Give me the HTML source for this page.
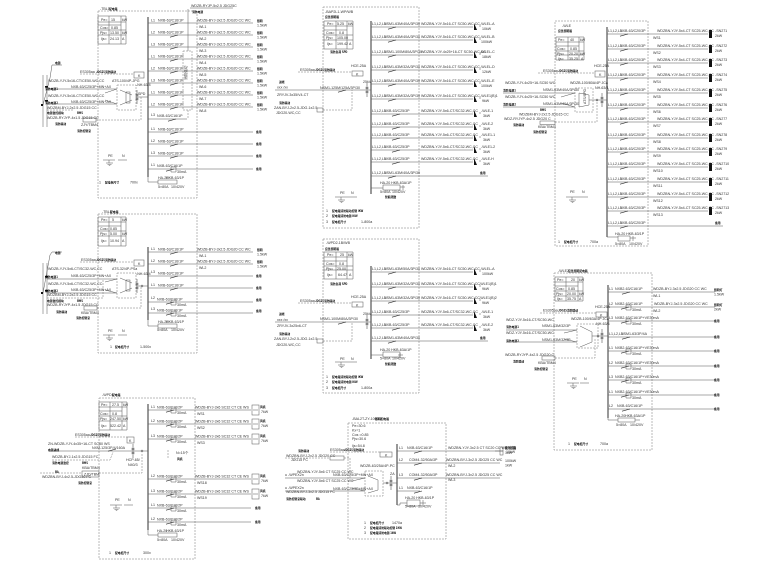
<!DOCTYPE html>
<html><head><meta charset="utf-8"><style>
html,body{margin:0;padding:0;background:#fff;width:760px;height:570px;overflow:hidden}
svg{display:block}
text{font:3.6px "Liberation Sans Narrow","Liberation Sans","Noto Sans CJK SC",sans-serif;fill:#333}
text.b{font:bold 2.8px "Noto Sans CJK SC","Liberation Sans",sans-serif;fill:#000}
path,rect,circle{fill:none;stroke:#555;stroke-width:.5}
.d{stroke:#777;stroke-dasharray:2 1;stroke-width:.5}
.u{stroke:#444;stroke-width:1.1}
.k{fill:#111;stroke:none}
</style></head><body>
<svg width="760" height="570" viewBox="0 0 760 570" xmlns="http://www.w3.org/2000/svg">
<defs>
<g id="s"><path d="M0 2.2L8 0" style="stroke:#222;stroke-width:.6"/></g>
<g id="r"><path d="M0 2.2L8 0" style="stroke:#222;stroke-width:.6"/><path d="M5 -2H10V3H5Z"/><text x="11" y="4">30mA</text></g>
<g id="g"><path d="M3 0V3M0 3H7M1.5 4.3H5.5M2.8 5.5H4.2M-3 0H9"/></g>
<g id="f"><path d="M0 -7V7M-1.5 -3L1.5 -1M1.5 -3L-1.5 -1M-1.5 1L1.5 3M1.5 1L-1.5 3" style="stroke:#333"/></g>
<g id="t"><path class="k" d="M0 3L0 -4L3 3Z"/><path d="M5 -1H7"/></g>
<rect id="m" x="0" y="-4" width="3" height="8" class="k"/>
</defs>

<!-- PANEL 1 -->
<rect class="d" x="98" y="11" width="99" height="187"/>
<text x="100" y="10">-TBL1</text><text class="b" x="109" y="10">配电箱</text>
<path d="M98 16H126V44H98ZM98 22H126M98 25H121M98 30H126M98 35H126M109 16V44M121 16V44"/>
<text x="101" y="21">Pe=</text><text x="111" y="21">15</text><text x="122" y="21">kW</text><text x="100" y="29">Cos=</text><text x="111" y="29">0.85</text><text x="100" y="34">Pjs=</text><text x="110" y="34">13.50</text><text x="122" y="34">kW</text><text x="101" y="40">Ijs=</text><text x="110" y="40">24.13</text><text x="122" y="40">A</text>
<text x="191" y="7">WDZB-RYJP-5x2.5 JDG25C</text><path d="M190 8H233"/><text class="b" x="192" y="13">消防电源</text><path d="M188 9V51"/>
<rect class="d" x="183" y="51" width="9" height="59"/><text x="0" y="0" transform="translate(187,80) rotate(-90)">消防强切</text><path d="M188 110V119" class="d"/>
<path class="u" d="M148 17V177"/>
<path d="M148 177V182H158"/><rect x="158" y="180" width="19" height="4"/><text x="158" y="179">HA-20</text><text x="166" y="179">HKB-63/1P</text><text x="158" y="188">5×80A</text><text x="171" y="188">10/420V</text>
<g transform="translate(0,23)"><path d="M148 0H253"/><use href="#s" x="170"/><text x="151" y="-1.5">L1</text><text x="158" y="-1.5">NXB-63/C16/1P</text><text x="197" y="-1.5">WDZB-BYJ-3x2.5 JDG20 CC WC</text><text x="199" y="5">WL1</text><text class="b" x="257" y="-1">照明</text><text x="257" y="3.5">1.5kW</text></g>
<g transform="translate(0,35)"><path d="M148 0H253"/><use href="#s" x="170"/><text x="151" y="-1.5">L2</text><text x="158" y="-1.5">NXB-63/C16/1P</text><text x="197" y="-1.5">WDZB-BYJ-3x2.5 JDG20 CC WC</text><text x="199" y="5">WL2</text><text class="b" x="257" y="-1">照明</text><text x="257" y="3.5">1.5kW</text></g>
<g transform="translate(0,47)"><path d="M148 0H253"/><use href="#s" x="170"/><text x="151" y="-1.5">L3</text><text x="158" y="-1.5">NXB-63/C16/1P</text><text x="197" y="-1.5">WDZB-BYJ-3x2.5 JDG20 CC WC</text><text x="199" y="5">WL3</text><text class="b" x="257" y="-1">照明</text><text x="257" y="3.5">1.5kW</text></g>
<g transform="translate(0,59)"><path d="M148 0H253"/><use href="#s" x="170"/><text x="151" y="-1.5">L1</text><text x="158" y="-1.5">NXB-63/C16/1P</text><text x="197" y="-1.5">WDZB-BYJ-3x2.5 JDG20 CC WC</text><text x="199" y="5">WL4</text><text class="b" x="257" y="-1">照明</text><text x="257" y="3.5">1.5kW</text></g>
<g transform="translate(0,71)"><path d="M148 0H253"/><use href="#s" x="170"/><text x="151" y="-1.5">L2</text><text x="158" y="-1.5">NXB-63/C16/1P</text><text x="197" y="-1.5">WDZB-BYJ-3x2.5 JDG20 CC WC</text><text x="199" y="5">WL5</text><text class="b" x="257" y="-1">照明</text><text x="257" y="3.5">1.5kW</text></g>
<g transform="translate(0,83)"><path d="M148 0H253"/><use href="#s" x="170"/><text x="151" y="-1.5">L3</text><text x="158" y="-1.5">NXB-63/C16/1P</text><text x="197" y="-1.5">WDZB-BYJ-3x2.5 JDG20 CC WC</text><text x="199" y="5">WL6</text><text class="b" x="257" y="-1">照明</text><text x="257" y="3.5">1.5kW</text></g>
<g transform="translate(0,95)"><path d="M148 0H253"/><use href="#s" x="170"/><text x="151" y="-1.5">L1</text><text x="158" y="-1.5">NXB-63/C16/1P</text><text x="197" y="-1.5">WDZB-BYJ-3x2.5 JDG20 CC WC</text><text x="199" y="5">WL7</text><text class="b" x="257" y="-1">照明</text><text x="257" y="3.5">1.5kW</text></g>
<g transform="translate(0,107)"><path d="M148 0H253"/><use href="#s" x="170"/><text x="151" y="-1.5">L2</text><text x="158" y="-1.5">NXB-63/C16/1P</text><text x="197" y="-1.5">WDZB-BYJ-3x2.5 JDG20 CC WC</text><text x="199" y="5">WL8</text><text class="b" x="257" y="-1">照明</text><text x="257" y="3.5">1.5kW</text></g>
<g transform="translate(0,119)"><path d="M148 0H187"/><use href="#s" x="168"/><text x="151" y="-3">L3</text><text x="157" y="-2">NXB-63/C16/1P</text></g>
<g transform="translate(0,132)"><path d="M148 0H253"/><use href="#s" x="170"/><text x="151" y="-2">L1</text><text x="158" y="-1.5">NXB-63/C16/1P</text><text class="b" x="256" y="1">备用</text></g>
<g transform="translate(0,144)"><path d="M148 0H253"/><use href="#s" x="170"/><text x="151" y="-2">L2</text><text x="158" y="-1.5">NXB-63/C16/1P</text><text class="b" x="256" y="1">备用</text></g>
<g transform="translate(0,156)"><path d="M148 0H253"/><use href="#s" x="170"/><text x="151" y="-2">L3</text><text x="158" y="-1.5">NXB-63/C16/1P</text><text class="b" x="256" y="1">备用</text></g>
<g transform="translate(0,169)"><path d="M148 0H253"/><use href="#r" x="166"/><text x="151" y="-3">L1</text><text x="157" y="-2">NXB-63/C16/1P</text><text class="b" x="256" y="1">备用</text></g>
<path d="M43 75V127M47 75V127M43 105L50 78L52 65H62"/><text class="b" x="55" y="64">电源</text>
<path class="k" d="M45 86h3v1.5h-3zM45 100h3v1.5h-3zM41 104h2v2h-2z"/>
<text x="48" y="82">WDZB-YJY-5x16-CT/CE50-WC,CC</text><path d="M47 89H117M47 104H117M117 89L105 93M117 104L105 100"/>
<text class="b" x="45" y="90">消防电源1</text><text class="b" x="45" y="104">消防电源2</text><text x="71" y="88">NXB-63/C25/3P+MN+AX</text><text x="48" y="97">WDZB-YJY-5x16-CT/CE50-WC,CC</text><text x="71" y="103">NXB-63/C25/3P+MN+AX</text>
<text x="47" y="109">WDZBM-BYJ-2x2.5 JDG15 CC</text><text class="b" x="47" y="114">电源监控模块</text><text class="b" x="77" y="114">BMS</text><text x="47" y="119">WDZB-RYJYP-4x1.5 JDG15 CC</text><rect x="83" y="118" width="13" height="4"/><text x="81" y="126">ZJY/TBM4</text><text class="b" x="55" y="125">消防联动</text><text class="b" x="77" y="132">消防控制室</text>
<path class="d" d="M80 74H134M96 120H141V97M47 110H73"/><rect x="134" y="72" width="10" height="6"/><text x="138" y="77">K</text><text x="80" y="73">ES305aa</text><text class="b" x="96" y="73">JDG25消防联动</text>
<rect class="d" x="117" y="85" width="19" height="25"/><text x="112" y="82">ATS-100/4P-JPG</text><text x="136" y="86">-NH-63/4</text><path d="M120 90L132 95M120 105L132 100M136 97H148"/><rect x="126" y="92" width="4" height="11"/><use href="#f" x="137" y="97"/><text x="138" y="95">SPD</text>
<use href="#g" x="106" y="160"/><text x="108" y="157">PE</text><path d="M118 160H127"/><text x="122" y="157">N</text>
<text x="99" y="183.5">1</text><text class="b" x="105" y="183.5">配电柜尺寸</text><text x="130" y="183.5">700x</text>

<!-- PANEL 2 -->
<rect class="d" x="98" y="214" width="99" height="139"/>
<text x="102" y="213">-TBL2</text><text class="b" x="110" y="213">配电箱</text>
<path d="M98 217H126V246H98ZM98 222H126M98 226H121M98 231H126M98 236H126M109 217V246M121 217V246"/>
<text x="101" y="221">Pe=</text><text x="112" y="221">5</text><text x="122" y="221">kW</text><text x="100" y="230">Cos=</text><text x="110" y="230">0.85</text><text x="100" y="235">Pjs=</text><text x="110" y="235">5.00</text><text x="122" y="235">kW</text><text x="101" y="242">Ijs=</text><text x="110" y="242">10.94</text><text x="122" y="242">A</text>
<path class="u" d="M148 247V320"/>
<path d="M148 320V326H158"/><rect x="158" y="324" width="19" height="4"/><text x="158" y="323">HA-20</text><text x="166" y="323">HKB-63/1P</text><text x="157" y="331">5×80A</text><text x="171" y="331">10/420V</text>
<g transform="translate(0,252)"><path d="M148 0H253"/><use href="#s" x="170"/><text x="151" y="-2">L1</text><text x="158" y="-1.5">NXB-63/C16/1P</text><text x="197" y="-1.5">WDZB-BYJ-3x2.5 JDG20 CC WC</text><text x="199" y="5">WL1</text><text class="b" x="257" y="-1">照明</text><text x="257" y="3.5">1.5kW</text></g>
<g transform="translate(0,264)"><path d="M148 0H253"/><use href="#s" x="170"/><text x="151" y="-2">L2</text><text x="158" y="-1.5">NXB-63/C16/1P</text><text x="197" y="-1.5">WDZB-BYJ-3x2.5 JDG20 CC WC</text><text x="199" y="5">WL2</text><text class="b" x="257" y="-1">照明</text><text x="257" y="3.5">1.5kW</text></g>
<g transform="translate(0,276)"><path d="M148 0H253"/><use href="#s" x="170"/><text x="151" y="-3">L3</text><text x="158" y="-1.5">NXB-63/C16/1P</text><text class="b" x="256" y="1">备用</text></g>
<g transform="translate(0,288)"><path d="M148 0H253"/><use href="#s" x="170"/><text x="151" y="-2">L1</text><text x="158" y="-1.5">NXB-63/C16/1P</text><text class="b" x="256" y="1">备用</text></g>
<g transform="translate(0,302)"><path d="M148 0H253"/><use href="#r" x="166"/><text x="151" y="-3">L2</text><text x="157" y="-1.5">NXB-63/C16/1P</text><text class="b" x="256" y="-1">备用</text></g>
<g transform="translate(0,313)"><path d="M148 0H253"/><use href="#r" x="166"/><text x="151" y="-3">L3</text><text x="157" y="-1.5">NXB-63/C16/1P</text><text class="b" x="256" y="-1">备用</text></g>
<path d="M43 263V314M47 263V314M43 293L50 255L52 252H62"/><text class="b" x="55" y="254">电源</text>
<path class="k" d="M45 276h3v1.5h-3zM45 290h3v1.5h-3zM41 292h2v2h-2z"/>
<text x="48" y="270">WDZB-YJY-5x6-CT/SC32-WC,CC</text><path d="M47 279H117M47 293H117M117 279L105 282M117 293L105 290"/>
<text class="b" x="45" y="278">消防电源1</text><text class="b" x="45" y="292">消防电源2</text><text x="71" y="277">NXB-63/C25/3P+MN+AX</text><text x="48" y="285">WDZB-YJY-5x6-CT/SC32-WC,CC</text><text x="71" y="291">NXB-63/C25/3P+MN+AX</text>
<text x="47" y="296">WDZBM-BYJ-2x2.5 JDG15 CC</text><text class="b" x="47" y="302">电源监控模块</text><text class="b" x="77" y="302">BMS</text><text x="47" y="306">WDZB-RYJYP-4x1.5 JDG15 CC</text><rect x="84" y="306" width="13" height="4"/><text x="81" y="314">KBA/TBM4</text><text class="b" x="56" y="313">消防联动</text><text class="b" x="76" y="319">消防控制室</text>
<path class="d" d="M80 262H134M97 308H141V287M47 298H103V280"/><rect x="134" y="260" width="10" height="6"/><text x="138" y="265">K</text><text x="81" y="261">ES305aa</text><text class="b" x="96" y="261">JDG25消防联动</text>
<rect class="d" x="117" y="273" width="19" height="25"/><text x="112" y="270">ATS-32/4P-PSa</text><text x="136" y="275">-NH-63/4</text><path d="M120 278L132 283M120 293L132 288M136 286H148"/><rect x="126" y="280" width="4" height="11"/><use href="#f" x="137" y="286"/><circle cx="142" cy="286" r="1"/>
<use href="#g" x="106" y="335"/><text x="108" y="332">PE</text><path d="M118 335H127"/><text x="122" y="332">N</text>
<text x="110" y="348">1</text><text class="b" x="115" y="348">配电柜尺寸</text><text x="140" y="348">1-500x</text>

<!-- PANEL 3 -->
<rect class="d" x="99" y="398" width="96" height="161"/>
<text x="102" y="396">-WPD1</text><text class="b" x="112" y="396">配电箱</text>
<path d="M99 402H127V430H99ZM99 407H127M99 411H122M99 416H127M99 421H127M110 402V430M122 402V430"/>
<text x="101" y="406">Pe=</text><text x="112" y="406">27.5</text><text x="123" y="406">kW</text><text x="100" y="415">Cos=</text><text x="112" y="415">0.8</text><text x="100" y="420">Pjs=</text><text x="110" y="420">247.50</text><text x="123" y="420">kW</text><text x="101" y="427">Ijs=</text><text x="110" y="427">522.42</text><text x="123" y="427">A</text>
<path class="u" d="M148 404V530"/>
<path d="M148 530V535H158"/><rect x="158" y="533" width="19" height="4"/><text x="157" y="532">HA-20</text><text x="166" y="532">HKB-63/1P</text><text x="157" y="541">5×80A</text><text x="171" y="541">10/420V</text>
<g transform="translate(0,410)"><path d="M148 0H251"/><rect x="252" y="-5" width="7" height="10"/><path d="M253 0H258"/><use href="#r" x="166"/><text x="151" y="-2">L1</text><text x="157" y="-1.5">NXB-63/C16/2P</text><text x="195" y="-1.5">WDZB-BYJ-3x6 SC32 CT CE WS</text><text x="197" y="5">WS1</text><text class="b" x="260" y="-2">风机</text><text x="261" y="3">7kW</text></g>
<g transform="translate(0,424)"><path d="M148 0H251"/><rect x="252" y="-5" width="7" height="10"/><path d="M253 0H258"/><use href="#r" x="166"/><text x="151" y="-2">L2</text><text x="157" y="-1.5">NXB-63/C16/2P</text><text x="195" y="-1.5">WDZB-BYJ-3x6 SC32 CT CE WS</text><text x="197" y="5">WS2</text><text class="b" x="260" y="-2">风机</text><text x="261" y="3">7kW</text></g>
<g transform="translate(0,439)"><path d="M148 0H251"/><rect x="252" y="-5" width="7" height="10"/><path d="M253 0H258"/><use href="#r" x="166"/><text x="151" y="-2">L3</text><text x="157" y="-1.5">NXB-63/C16/2P</text><text x="195" y="-1.5">WDZB-BYJ-3x6 SC32 CT CE WS</text><text x="197" y="5">WS3</text><text class="b" x="260" y="-2">风机</text><text x="261" y="3">7kW</text></g>
<g transform="translate(0,479)"><path d="M148 0H251"/><rect x="252" y="-5" width="7" height="10"/><path d="M253 0H258"/><use href="#r" x="166"/><text x="151" y="-2">L2</text><text x="157" y="-1.5">NXB-63/C16/2P</text><text x="195" y="-1.5">WDZB-BYJ-3x6 SC32 CT CE WS</text><text x="197" y="5">WS18</text><text class="b" x="260" y="-2">风机</text><text x="261" y="3">7kW</text></g>
<g transform="translate(0,494)"><path d="M148 0H251"/><rect x="252" y="-5" width="7" height="10"/><path d="M253 0H258"/><use href="#r" x="166"/><text x="151" y="-2">L3</text><text x="157" y="-1.5">NXB-63/C16/2P</text><text x="195" y="-1.5">WDZB-BYJ-3x6 SC32 CT CE WS</text><text x="197" y="5">WS19</text><text class="b" x="260" y="-2">风机</text><text x="261" y="3">7kW</text></g>
<g transform="translate(0,508)"><path d="M148 0H251"/><use href="#r" x="166"/><text x="151" y="-2">L1</text><text x="157" y="-1.5">NXB-63/C16/2P</text><text class="b" x="255" y="1">备用</text></g>
<g transform="translate(0,522)"><path d="M148 0H251"/><use href="#r" x="166"/><text x="151" y="-2">L2</text><text x="157" y="-1.5">NXB-63/C16/2P</text><text class="b" x="255" y="1">备用</text></g>
<path class="d" d="M168 450V458"/><text x="176" y="454">N=15个</text><text class="b" x="177" y="460">风机</text>
<path d="M48 451H148"/><circle cx="142" cy="451" r="1"/><use href="#s" x="108" y="449"/>
<text x="48" y="445">ZN-WDZB-YJY-4x35+16-CT SC80 WS</text><text class="b" x="48" y="451">电源进线</text><text x="92" y="449">NXM-125/3P/4/160A</text>
<path class="d" d="M75 437H127M52 460H110L113 452M40 473H82M99 473H142V453"/>
<rect x="127" y="437" width="7" height="6"/><text x="129" y="442">K</text><text x="75" y="436">ES305aa</text><text class="b" x="90" y="436">JDG25消防联动</text><use href="#f" x="133" y="451"/><text x="126" y="461">HCP-65/</text><text x="128" y="466">N40/3</text>
<text x="52" y="458">WDZB-BYJ-1x2.5 JDG15 FC</text><text class="b" x="52" y="464">消防电源监控</text><text class="b" x="82" y="464">BMS</text><rect x="82" y="471" width="17" height="6"/><text x="84" y="475.5">ZJD/TBM</text><text x="82" y="469">KBA/TBM4</text><text x="42" y="478">WDZBN-BYJ-4x2.5-JDG20 FC</text><text class="b" x="78" y="484">消防控制室</text><text class="b" x="55" y="473">BA</text>
<use href="#g" x="113" y="505"/><text x="115" y="501">PE</text><path d="M124 505H133"/><text x="128" y="501">N</text>
<text x="109" y="554">1</text><text class="b" x="115" y="554">配电柜尺寸</text><text x="143" y="554">300x</text>

<!-- PANEL 4 -->
<rect class="d" x="323" y="7" width="96" height="221"/>
<text x="325" y="13">-BAP2L1-WP/WB</text><text class="b" x="325" y="18">应急照明箱</text>
<path d="M324 21H353V49H324ZM324 26H353M324 30H347M324 35H353M324 40H353M336 21V49M347 21V49"/>
<text x="327" y="25">Pe=</text><text x="337" y="25">5.25</text><text x="348" y="25">kW</text><text x="326" y="34">Cos=</text><text x="339" y="34">0.8</text><text x="326" y="39">Pjs=</text><text x="337" y="39">105.00</text><text x="327" y="45">Ijs=</text><text x="337" y="45">199.42</text><text x="349" y="45">A</text><text class="b" x="330" y="53">消防负荷 SPD</text>
<path class="u" d="M371 21V194"/>
<path d="M371 188H383"/><rect x="383" y="185" width="17" height="5"/><text x="380" y="184">HA-20 HKB-63A/1P</text><text x="380" y="193">5×80A</text><text x="392" y="193">10/420V</text><path d="M400 187H405M403 185V190"/><text class="b" x="385" y="198">智能疏散</text>
<g transform="translate(0,27)"><path d="M371 0H473"/><use href="#t" x="474"/><use href="#s" x="388"/><text x="372" y="-2">L1,L2,L3</text><text x="384" y="-2">NSM1-63M/40A/3P/30</text><text x="421" y="-2">WDZBN-YJY-5x16-CT SC50-WC,CC</text><text x="480" y="-2">-WLEL-A</text><text x="482" y="3">10kW</text></g>
<g transform="translate(0,40)"><path d="M371 0H473"/><use href="#t" x="474"/><use href="#s" x="388"/><text x="372" y="-2">L1,L2,L3</text><text x="384" y="-2">NSM1-63M/40A/3P/30</text><text x="421" y="-2">WDZBN-YJY-5x16-CT SC50-WC,CC</text><text x="480" y="-2">-WLEL-B</text><text x="481" y="3">100kW</text></g>
<g transform="translate(0,55)"><path d="M371 0H473"/><use href="#t" x="474"/><use href="#s" x="388"/><text x="372" y="-2">L1,L2,L3</text><text x="384" y="-2">NSM1-100M/80A/3P/30</text><text x="421" y="-2">WDZBN-YJY-4x25+16-CT SC50-WC,CC</text><text x="480" y="-2">-WLEL-C</text><text x="482" y="3">18kW</text></g>
<g transform="translate(0,70)"><path d="M371 0H473"/><use href="#t" x="474"/><use href="#s" x="388"/><text x="372" y="-2">L1,L2,L3</text><text x="384" y="-2">NSM1-63M/32A/3P/30</text><text x="421" y="-2">WDZBN-YJY-5x16-CT SC50-WC,CC</text><text x="480" y="-2">-WLEL-D</text><text x="482" y="3">12kW</text></g>
<g transform="translate(0,84)"><path d="M371 0H473"/><use href="#t" x="474"/><use href="#s" x="388"/><text x="372" y="-2">L1,L2,L3</text><text x="384" y="-2">NSM1-63M/40A/3P/30</text><text x="421" y="-2">WDZBN-YJY-5x16-CT SC50-WC,CC</text><text x="480" y="-2">-WLEL-E</text><text x="481" y="3">100kW</text></g>
<g transform="translate(0,99)"><path d="M371 0H473"/><use href="#t" x="474"/><use href="#s" x="388"/><text x="372" y="-2">L1,L2,L3</text><text x="384" y="-2">NSM1-63M/32A/3P/30</text><text x="421" y="-2">WDZBN-YJY-5x16-CT SC50-WC,CC</text><text x="480" y="-2">-WLE1(B)1</text><text x="482" y="3">9kW</text></g>
<g transform="translate(0,114)"><path d="M371 0H473"/><use href="#t" x="474"/><use href="#s" x="392"/><text x="372" y="-2">L1,L2,L3</text><text x="384" y="-2">NXB-63/C25/3P</text><text x="421" y="-2">WDZBN-YJY-5x6-CT/SC32-WC,CC</text><text x="481" y="-2">-WLE-1</text><text x="483" y="3">3kW</text></g>
<g transform="translate(0,127)"><path d="M371 0H473"/><use href="#t" x="474"/><use href="#s" x="392"/><text x="372" y="-2">L1,L2,L3</text><text x="384" y="-2">NXB-63/C25/3P</text><text x="421" y="-2">WDZBN-YJY-5x6-CT/SC32-WC,CC</text><text x="481" y="-2">-WLE-2</text><text x="483" y="3">3kW</text></g>
<g transform="translate(0,138)"><path d="M371 0H473"/><use href="#t" x="474"/><use href="#s" x="392"/><text x="372" y="-2">L1,L2,L3</text><text x="384" y="-2">NXB-63/C25/3P</text><text x="421" y="-2">WDZBN-YJY-5x6-CT/SC32-WC,CC</text><text x="481" y="-2">-WLE1-1</text><text x="483" y="3">3kW</text></g>
<g transform="translate(0,150)"><path d="M371 0H473"/><use href="#t" x="474"/><use href="#s" x="392"/><text x="372" y="-2">L1,L2,L3</text><text x="384" y="-2">NXB-63/C25/3P</text><text x="421" y="-2">WDZBN-YJY-5x6-CT/SC32-WC,CC</text><text x="481" y="-2">-WLE1-2</text><text x="483" y="3">3kW</text></g>
<g transform="translate(0,162)"><path d="M371 0H473"/><use href="#t" x="474"/><use href="#s" x="392"/><text x="372" y="-2">L1,L2,L3</text><text x="384" y="-2">NXB-63/C25/3P</text><text x="421" y="-2">WDZBN-YJY-5x6-CT/SC32-WC,CC</text><text x="481" y="-2">-WLE-H</text><text x="483" y="3">3kW</text></g>
<g transform="translate(0,176)"><path d="M371 0H488"/><use href="#s" x="388"/><text x="372" y="-2">L1,L2,L3</text><text x="384" y="-2">NSM1-63M/40A/3P/30</text><text class="b" x="480" y="-2">备用</text></g>
<path d="M275 90H371"/><use href="#s" x="338" y="90"/><text class="b" x="279" y="83">进线</text><text x="277" y="88.5">xxx /xx</text><text x="277" y="96">ZRYJV-3x35/V4-CT</text><text x="320" y="89">NSM1-125M/125A/3P/30</text>
<path class="d" d="M298 72H352M323 110H352V90"/><rect x="352" y="71" width="11" height="5"/><text x="356" y="75.5">K</text><text x="300" y="71">ES305aa</text><text class="b" x="315" y="71">JDG25消防联动</text><text x="351" y="67">HCE-25A</text>
<use href="#f" x="367" y="90"/><text x="363" y="83">25kV</text>
<text class="b" x="279" y="104">消防联动</text><text x="274" y="109">ZAN-BYJ-2x2.5-JDG-1x2.5</text><text x="276" y="114">JDG20-WC,CC</text><rect x="317" y="108" width="6" height="4"/>
<use href="#g" x="338" y="197"/><text x="340" y="194">PE</text><path d="M347 197H357"/><text x="351" y="194">N</text>
<text x="326" y="212">1</text><text class="b" x="332" y="212">配电箱消防联动控制 IKW</text><text x="326" y="217">2</text><text class="b" x="332" y="217">配电箱消防电源 IKW</text><text x="326" y="223">3</text><text class="b" x="332" y="223">配电柜尺寸</text><text x="361" y="223">1-800a</text>

<!-- PANEL 5 -->
<rect class="d" x="323" y="239" width="96" height="154"/>
<text x="326" y="244">-WPD2-1B/WB</text><text class="b" x="325" y="250">应急照明箱</text>
<path d="M324 252H353V279H324ZM324 257H353M324 261H347M324 266H353M324 270H353M336 252V279M347 252V279"/>
<text x="327" y="256">Pe=</text><text x="340" y="256">25</text><text x="348" y="256">kW</text><text x="326" y="265">Cos=</text><text x="339" y="265">0.8</text><text x="326" y="270">Pjs=</text><text x="337" y="270">25.00</text><text x="327" y="276">Ijs=</text><text x="338" y="276">64.47</text><text x="349" y="276">A</text><text class="b" x="330" y="285">消防负荷 SPD</text>
<path class="u" d="M371 266V359"/>
<path d="M371 355H383"/><rect x="383" y="352" width="17" height="5"/><text x="380" y="351">HA-20 HKB-63A/1P</text><text x="380" y="359.5">5×80A</text><text x="392" y="359.5">10/420V</text><text class="b" x="385" y="365">智能疏散</text><path d="M400 353V358M398 355H403"/>
<g transform="translate(0,272)"><path d="M371 0H473"/><use href="#t" x="474"/><use href="#s" x="388"/><text x="372" y="-2">L1,L2,L3</text><text x="384" y="-2">NSM1-63M/50A/3P/30</text><text x="421" y="-2">WDZBN-YJY-5x16-CT SC50-WC,CC</text><text x="480" y="-2">-WLEL-A</text><text x="482" y="3">100kW</text></g>
<g transform="translate(0,287)"><path d="M371 0H473"/><use href="#t" x="474"/><use href="#s" x="388"/><text x="372" y="-2">L1,L2,L3</text><text x="384" y="-2">NSM1-63M/32A/3P/30</text><text x="421" y="-2">WDZBN-YJY-5x16-CT SC50-WC,CC</text><text x="479" y="-2">-WLE1(B)1</text><text x="482" y="3">9kW</text></g>
<g transform="translate(0,301)"><path d="M371 0H473"/><use href="#t" x="474"/><use href="#s" x="388"/><text x="372" y="-2">L1,L2,L3</text><text x="384" y="-2">NSM1-63M/32A/3P/30</text><text x="421" y="-2">WDZBN-YJY-5x16-CT SC50-WC,CC</text><text x="479" y="-2">-WLE1(B)2</text><text x="482" y="3">9kW</text></g>
<g transform="translate(0,315)"><path d="M371 0H473"/><use href="#t" x="474"/><use href="#s" x="392"/><text x="372" y="-2">L1,L2,L3</text><text x="384" y="-2">NXB-63/C25/3P</text><text x="421" y="-2">WDZBN-YJY-5x6-CT/SC32-WC,CC</text><text x="481" y="-2">-WLE-1</text><text x="483" y="3">3kW</text></g>
<g transform="translate(0,328)"><path d="M371 0H473"/><use href="#t" x="474"/><use href="#s" x="392"/><text x="372" y="-2">L1,L2,L3</text><text x="384" y="-2">NXB-63/C25/3P</text><text x="421" y="-2">WDZBN-YJY-5x6-CT/SC32-WC,CC</text><text x="481" y="-2">-WLE-2</text><text x="483" y="3">3kW</text></g>
<g transform="translate(0,341)"><path d="M371 0H488"/><use href="#s" x="388"/><text x="372" y="-2">L1,L2,L3</text><text x="384" y="-2">NSM1-63M/40A/3P/30</text><text class="b" x="480" y="-2">备用</text></g>
<path d="M275 322H371"/><use href="#s" x="338" y="322"/><text class="b" x="279" y="315">进线</text><text x="277" y="321">xxx /xx</text><text x="277" y="327">ZRYJV-3x25x6-CT</text><text x="320" y="320">NSM1-100M/80A/3P/30</text>
<path class="d" d="M298 303H352M323 341H352V322"/><rect x="352" y="302" width="11" height="5"/><text x="356" y="306.5">K</text><text x="300" y="302">ES305aa</text><text class="b" x="315" y="302">JDG25消防联动</text><text x="351" y="298">HCE-25A</text>
<use href="#f" x="367" y="322"/><text x="363" y="315">25kV</text>
<text class="b" x="279" y="335">消防联动</text><text x="274" y="340">ZAN-BYJ-2x2.5-JDG-1x2.5</text><text x="276" y="346">JDG20-WC,CC</text><rect x="317" y="339" width="6" height="4"/>
<use href="#g" x="338" y="362"/><text x="340" y="360">PE</text><path d="M347 362H357"/><text x="351" y="360">N</text>
<text x="326" y="378">1</text><text class="b" x="332" y="378">配电箱消防联动控制 IKW</text><text x="326" y="383">2</text><text class="b" x="332" y="383">配电箱消防电源 IKW</text><text x="326" y="389">3</text><text class="b" x="332" y="389">配电柜尺寸</text><text x="361" y="389">1-800a</text>

<!-- PANEL 6 -->
<rect class="d" x="555" y="21" width="93" height="225"/>
<text x="562" y="27">-WLE</text><text class="b" x="558" y="32">应急照明箱</text>
<path d="M556 37H584V60H556ZM556 42H584M556 46H579M556 51H584M556 55H584M568 37V60M579 37V60"/>
<text x="558" y="41">Pe=</text><text x="570" y="41">40</text><text x="580" y="41">kW</text><text x="557" y="50">Cos=</text><text x="570" y="50">0.85</text><text x="557" y="55">Pjs=</text><text x="569" y="55">20.20</text><text x="580" y="55">kW</text><text x="558" y="60">Ijs=</text><text x="569" y="60">35.25</text><text x="581" y="60">A</text>
<path class="u" d="M607 27V237"/>
<path d="M607 237H618"/><rect x="618" y="236" width="12" height="5"/><text x="615" y="235">HA-20 HKB-63/1P</text><text x="615" y="245">5×80A</text><text x="629" y="245">10/420V</text><path d="M630 238H636M633 236V241"/>
<g transform="translate(0,34)"><path d="M607 0H708"/><use href="#m" x="709"/><use href="#s" x="620"/><text x="608" y="-2">L1,L2,L3</text><text x="620" y="-2">NXB-63/C20/3P</text><text x="657" y="-2">WDZBN-YJY-5x4-CT SC25-WC,CC</text><text x="653" y="5">WS1</text><text x="715" y="-2">-SN271</text><text x="715" y="3">2kW</text></g>
<g transform="translate(0,49)"><path d="M607 0H708"/><use href="#m" x="709"/><use href="#s" x="620"/><text x="608" y="-2">L1,L2,L3</text><text x="620" y="-2">NXB-63/C20/3P</text><text x="657" y="-2">WDZBN-YJY-5x4-CT SC25-WC,CC</text><text x="653" y="5">WS2</text><text x="715" y="-2">-SN272</text><text x="715" y="3">2kW</text></g>
<g transform="translate(0,63)"><path d="M607 0H708"/><use href="#m" x="709"/><use href="#s" x="620"/><text x="608" y="-2">L1,L2,L3</text><text x="620" y="-2">NXB-63/C20/3P</text><text x="657" y="-2">WDZBN-YJY-5x4-CT SC25-WC,CC</text><text x="653" y="5">WS3</text><text x="715" y="-2">-SN273</text><text x="715" y="3">2kW</text></g>
<g transform="translate(0,78)"><path d="M607 0H708"/><use href="#m" x="709"/><use href="#s" x="620"/><text x="608" y="-2">L1,L2,L3</text><text x="620" y="-2">NXB-63/C20/3P</text><text x="657" y="-2">WDZBN-YJY-5x4-CT SC25-WC,CC</text><text x="653" y="5">WS4</text><text x="715" y="-2">-SN274</text><text x="715" y="3">2kW</text></g>
<g transform="translate(0,93)"><path d="M607 0H708"/><use href="#m" x="709"/><use href="#s" x="620"/><text x="608" y="-2">L1,L2,L3</text><text x="620" y="-2">NXB-63/C20/3P</text><text x="657" y="-2">WDZBN-YJY-5x4-CT SC25-WC,CC</text><text x="653" y="5">WS5</text><text x="715" y="-2">-SN275</text><text x="715" y="3">2kW</text></g>
<g transform="translate(0,108)"><path d="M607 0H708"/><use href="#m" x="709"/><use href="#s" x="620"/><text x="608" y="-2">L1,L2,L3</text><text x="620" y="-2">NXB-63/C20/3P</text><text x="657" y="-2">WDZBN-YJY-5x4-CT SC25-WC,CC</text><text x="653" y="5">WS6</text><text x="715" y="-2">-SN276</text><text x="715" y="3">2kW</text></g>
<g transform="translate(0,122)"><path d="M607 0H708"/><use href="#m" x="709"/><use href="#s" x="620"/><text x="608" y="-2">L1,L2,L3</text><text x="620" y="-2">NXB-63/C20/3P</text><text x="657" y="-2">WDZBN-YJY-5x4-CT SC25-WC,CC</text><text x="653" y="5">WS7</text><text x="715" y="-2">-SN277</text><text x="715" y="3">2kW</text></g>
<g transform="translate(0,138)"><path d="M607 0H708"/><use href="#m" x="709"/><use href="#s" x="620"/><text x="608" y="-2">L1,L2,L3</text><text x="620" y="-2">NXB-63/C20/3P</text><text x="657" y="-2">WDZBN-YJY-5x4-CT SC25-WC,CC</text><text x="653" y="5">WS8</text><text x="715" y="-2">-SN278</text><text x="715" y="3">2kW</text></g>
<g transform="translate(0,152)"><path d="M607 0H708"/><use href="#m" x="709"/><use href="#s" x="620"/><text x="608" y="-2">L1,L2,L3</text><text x="620" y="-2">NXB-63/C20/3P</text><text x="657" y="-2">WDZBN-YJY-5x4-CT SC25-WC,CC</text><text x="653" y="5">WS9</text><text x="715" y="-2">-SN279</text><text x="715" y="3">2kW</text></g>
<g transform="translate(0,167)"><path d="M607 0H708"/><use href="#m" x="709"/><use href="#s" x="620"/><text x="608" y="-2">L1,L2,L3</text><text x="620" y="-2">NXB-63/C20/3P</text><text x="657" y="-2">WDZBN-YJY-5x4-CT SC25-WC,CC</text><text x="653" y="5">WS10</text><text x="715" y="-2">-SN2710</text><text x="715" y="3">2kW</text></g>
<g transform="translate(0,182)"><path d="M607 0H708"/><use href="#m" x="709"/><use href="#s" x="620"/><text x="608" y="-2">L1,L2,L3</text><text x="620" y="-2">NXB-63/C20/3P</text><text x="657" y="-2">WDZBN-YJY-5x4-CT SC25-WC,CC</text><text x="653" y="5">WS11</text><text x="715" y="-2">-SN2711</text><text x="715" y="3">2kW</text></g>
<g transform="translate(0,197)"><path d="M607 0H708"/><use href="#m" x="709"/><use href="#s" x="620"/><text x="608" y="-2">L1,L2,L3</text><text x="620" y="-2">NXB-63/C20/3P</text><text x="657" y="-2">WDZBN-YJY-5x4-CT SC25-WC,CC</text><text x="653" y="5">WS12</text><text x="715" y="-2">-SN2712</text><text x="715" y="3">2kW</text></g>
<g transform="translate(0,211)"><path d="M607 0H708"/><use href="#m" x="709"/><use href="#s" x="620"/><text x="608" y="-2">L1,L2,L3</text><text x="620" y="-2">NXB-63/C20/3P</text><text x="657" y="-2">WDZBN-YJY-5x4-CT SC25-WC,CC</text><text x="653" y="5">WS13</text><text x="715" y="-2">-SN2713</text><text x="715" y="3">2kW</text></g>
<g transform="translate(0,226)"><path d="M607 0H723"/><use href="#s" x="620"/><text x="608" y="-2">L1,L2,L3</text><text x="620" y="-2">NXB-63/C20/3P</text><text class="b" x="715" y="-2">备用</text></g>
<text x="505" y="84">WDZB-YJY-4x25+16-SC50 WC</text><text x="505" y="98">WDZB-YJY-4x25+16-SC50 WC</text><text class="b" x="503" y="91.5">消防电源1</text><text class="b" x="503" y="105.5">消防电源2</text>
<path d="M503 93H575M503 107H575M575 93L561 97M575 107L561 103"/>
<text x="543" y="91">NSM1-63M/40A/3P/30</text><text x="543" y="105">NSM1-63M/40A/3P/30</text>
<path class="d" d="M538 73H595M555 122H597V100"/><rect x="595" y="71" width="10" height="6"/><text x="599" y="76">K</text><text x="543" y="72">ES305aa</text><text class="b" x="558" y="72">JDG25消防联动</text><text x="594" y="67">HCE-25A</text>
<rect class="d" x="575" y="88" width="18" height="24"/><text x="570" y="84">WDZB-100/80A/4P JCa</text><text x="595" y="89">NH-63/4</text><path d="M579 93L589 95V105L579 107Z M589 100H607"/><use href="#f" x="602" y="100"/><circle cx="597" cy="100" r="1"/><text x="0" y="0" transform="translate(586,104) rotate(-90)">ATS/SPD</text>
<text class="b" x="540" y="111">BMS</text><text x="519" y="115.5">WDZBM-BYJ-2x2.5 JDG15 CC</text><text x="504" y="120">WDZ-RYJYP-4x2.5 JDG20 C</text><rect x="540" y="121" width="15" height="3.5"/><text class="b" x="513" y="126">消防联动</text><text x="538" y="128">KBA/TBM4</text><text class="b" x="533" y="133">消防控制室</text>
<use href="#g" x="569" y="197"/><text x="570" y="193">PE</text><path d="M578 197H588"/><text x="582" y="193">N</text>
<text x="558" y="243">1</text><text class="b" x="564" y="243">配电柜尺寸</text><text x="590" y="243">700a</text>

<!-- PANEL 7 -->
<rect class="d" x="554" y="273" width="98" height="177"/>
<text x="558" y="272">-WLE2</text><text class="b" x="568" y="272">应急照明配电箱</text>
<path d="M555 277H583V301H555ZM555 282H583M555 286H578M555 291H583M555 296H583M566 277V301M578 277V301"/>
<text x="557" y="281">Pe=</text><text x="571" y="281">20</text><text x="579" y="281">kW</text><text x="556" y="290">Cos=</text><text x="568" y="290">0.85</text><text x="556" y="295">Pjs=</text><text x="567" y="295">20.00</text><text x="579" y="295">kW</text><text x="557" y="300">Ijs=</text><text x="567" y="300">35.75</text><text x="579" y="300">A</text>
<path class="u" d="M608 285V418"/>
<path d="M608 418V420H618"/><rect x="618" y="418" width="17" height="4"/><text x="615" y="417">HA-20</text><text x="625" y="417">HKB-63A/1P</text><text x="616" y="426">5×80A</text><text x="630" y="426">10/420V</text><path d="M635 420H640"/>
<g transform="translate(0,292)"><path d="M608 0H715"/><use href="#s" x="622"/><text x="609" y="-2">L1</text><text x="615" y="-2">NXB2-63/C16/1P</text><text x="653" y="-2">WDZB-BYJ-3x2.5 JDG20 CC WC</text><text x="653" y="5">WL1</text><text class="b" x="714" y="-1">照明灯</text><text x="714" y="3.5">1.5kW</text></g>
<g transform="translate(0,307)"><path d="M608 0H715"/><use href="#r" x="621"/><text x="609" y="-2">L2</text><text x="615" y="-2">NXB2-63/C16/1P</text><text x="654" y="-2">WDZB-BYJ-3x2.5 JDG20 CC WC</text><text x="653" y="5">WL2</text><text class="b" x="714" y="-1">照明灯</text><text x="714" y="3.5">2kW</text></g>
<g transform="translate(0,321)"><path d="M608 0H715"/><use href="#r" x="621"/><text x="609" y="-2">L3</text><text x="615" y="-2">NXB2-63/C16/1P+VE30mA</text><text class="b" x="714" y="1">备用</text></g>
<g transform="translate(0,337)"><path d="M608 0H715"/><use href="#s" x="622"/><text x="609" y="-2">L1,L2,L3</text><text x="621" y="-2">NSM1-63/3P/4A</text><text class="b" x="714" y="1">备用</text></g>
<g transform="translate(0,351)"><path d="M608 0H715"/><use href="#r" x="621"/><text x="609" y="-2">L1</text><text x="615" y="-2">NXB2-63/C16/1P+VE30mA</text><text class="b" x="714" y="1">备用</text></g>
<g transform="translate(0,366)"><path d="M608 0H715"/><use href="#r" x="621"/><text x="609" y="-2">L2</text><text x="615" y="-2">NXB2-63/C16/1P+VE30mA</text><text class="b" x="714" y="1">备用</text></g>
<g transform="translate(0,380)"><path d="M608 0H715"/><use href="#r" x="621"/><text x="609" y="-2">L3</text><text x="615" y="-2">NXB2-63/C16/1P+VE30mA</text><text class="b" x="714" y="1">备用</text></g>
<g transform="translate(0,395)"><path d="M608 0H715"/><use href="#r" x="621"/><text x="609" y="-2">L1</text><text x="615" y="-2">NXB2-63/C16/1P+VE30mA</text><text class="b" x="714" y="1">备用</text></g>
<g transform="translate(0,409)"><path d="M608 0H715"/><use href="#s" x="622"/><text x="609" y="-2">L2</text><text x="617" y="-2">NXB-63/C16/1P</text><text class="b" x="714" y="1">备用</text></g>
<text x="506" y="321">WDZ-YJY-5x16-CT/SC50-WC</text><text x="506" y="334">WDZ-YJY-5x16-CT/SC50-WC</text><text class="b" x="506" y="328">消防电源1</text><text class="b" x="506" y="342">消防电源2</text>
<path d="M506 330H577M506 342H577M577 330L564 333M577 342L564 339"/>
<text x="542" y="327">NSM1-63M/32/3P</text><text x="542" y="341">NSM1-63M/32/3P</text>
<path class="d" d="M540 313H596M555 358H595V338"/><rect x="596" y="312" width="11" height="5"/><text x="600" y="316.5">K</text><text x="543" y="311.5">ES305aa</text><text class="b" x="558" y="311.5">JDG25消防联动</text><text x="595" y="308">HCE-25A</text>
<rect class="d" x="577" y="324" width="21" height="24"/><text x="571" y="320">WDZB-100/63A/4P JCa</text><text x="595" y="325">-NH-63/4</text><path d="M580 326L592 332V342L580 347M592 336H608"/><use href="#f" x="602" y="336"/><circle cx="598" cy="336" r="1"/>
<text x="505" y="356">WDZB-RYJYP-4x2.5 JDG20 C</text><rect x="542" y="356" width="13" height="4"/><text class="b" x="513" y="362.5">消防联动</text><text x="538" y="364">KBA/TBM4</text><text class="b" x="534" y="370">消防控制室</text>
<use href="#g" x="570" y="383"/><text x="572" y="380">PE</text><path d="M580 383H589"/><text x="584" y="380">N</text>
<text x="568" y="445">1</text><text class="b" x="574" y="445">配电柜尺寸</text><text x="600" y="445">700a</text>
<rect x="500" y="447" width="3" height="4"/><rect x="500" y="451" width="3" height="4"/><path d="M495 451H500"/><text class="b" x="505" y="449">备用回路</text><text x="506" y="453">10kW</text>

<!-- PANEL 8 -->
<rect class="d" x="348" y="423" width="98" height="116"/>
<text x="352" y="420">-BAL2T-ZY-1000.2</text><text class="b" x="375" y="420">照明配电箱</text>
<text x="352" y="427">Pe=30.6</text><text x="352" y="431.5">Kx=1</text><text x="352" y="436">Cos =0.85</text><text x="352" y="440">Pjs=30.6</text><text x="352" y="447">Ijs=54.8</text>
<path class="u" d="M397 444V505"/>
<path d="M397 505H400V503H407"/><rect x="407" y="500" width="13" height="6"/><text x="405" y="499">HA-20 HKB-63/1P</text><text x="405" y="507.5">5×80A</text><text x="418" y="507.5">10/420V</text><path d="M420 503H426M423 500V506"/>
<g transform="translate(0,451)"><path d="M397 0H500"/><use href="#s" x="414"/><text x="399" y="-2">L1</text><text x="407" y="-2">NXB-63/C16/1P</text><text x="448" y="-2">WDZBN-YJY-3x2.5 CT SC20 CC WC</text><text x="505" y="-2">配电箱</text><text x="505" y="3">1kW</text></g>
<g transform="translate(0,463)"><path d="M397 0H500"/><use href="#s" x="414"/><text x="399" y="-2">L2</text><text x="409" y="-2">COM4-32/50A/3P</text><text x="446" y="-2">WDZBN-BYJ-3x2.5 JDG25 CC WC</text><text x="448" y="4">WL2</text><text x="505" y="-1">100kW</text><text x="505" y="3.5">1kW</text></g>
<g transform="translate(0,478)"><path d="M397 0H500"/><use href="#s" x="414"/><text x="399" y="-2">L3</text><text x="409" y="-2">COM4-32/50A/3P</text><text x="446" y="-2">WDZBN-BYJ-3x2.5 JDG25 CC WC</text><text x="448" y="3">WL3</text></g>
<g transform="translate(0,491)"><path d="M397 0H420"/><use href="#s" x="414"/><text x="399" y="-2">L1</text><text x="407" y="-2">NXB-63/C16/1P</text></g>
<path d="M285 478H365M285 491H365M365 478L352 481M365 491L352 488"/>
<text x="297" y="473">WDZBN-YJY-5x6 CT SC25 CC WC</text><text x="297" y="482">WDZBN-YJY-5x6 CT SC25 CC WC</text><text x="285" y="476">u -WPEX2n</text><text x="285" y="489">u -WPEX2n</text><text x="333" y="476">NXB-63/C25/3P+MN+AX</text><text x="333" y="490">NXB-63/C25/3P+MN+AX</text>
<path class="d" d="M330 452H380M285 458H330M344 458H350V478"/><rect x="380" y="452" width="12" height="5"/><text x="385" y="456.5">K</text><text x="330" y="451">ES305aa</text><text class="b" x="344" y="451">JDG25消防联动</text>
<text class="b" x="298" y="452">消防联动</text><text x="286" y="457">WDZBN-BYJ-2x2.5 JDG20 CC</text><text x="291" y="461">JDG15 FC</text><rect x="330" y="456" width="14" height="4"/>
<rect class="d" x="365" y="471" width="18" height="25"/><text x="360" y="467">WDZB-63/25A/4P-PC</text><text x="390" y="475">ZA</text><path d="M368 476L378 480V490L368 493M383 483H397"/><use href="#f" x="391" y="483"/><circle cx="387" cy="483" r="1"/>
<text x="286" y="493">WDZBN-BYJ-3x2.5 JDG15 FC</text><text class="b" x="286" y="500">消防控制室联动</text><text class="b" x="316" y="500">BA</text>
<text x="364" y="524">1</text><text class="b" x="370" y="524">配电柜尺寸</text><text x="392" y="524">1470a</text><text x="364" y="529">2</text><text class="b" x="370" y="529">配电箱消防联动控制 1KW</text><text x="364" y="534">3</text><text class="b" x="370" y="534">配电箱消防电源 1kW</text>
</svg>
</body></html>
